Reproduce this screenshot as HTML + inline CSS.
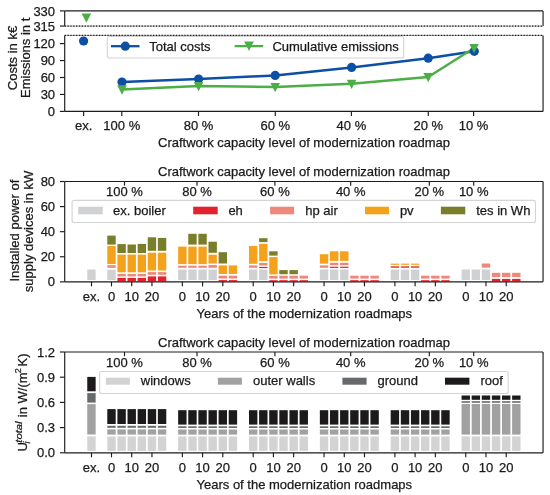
<!DOCTYPE html>
<html><head><meta charset="utf-8"><title>Modernization roadmaps</title>
<style>
html,body{margin:0;padding:0;background:#fff;}
svg{display:block;filter:blur(0.3px);}
svg text{font-family:"Liberation Sans",sans-serif;fill:#1a1a1a;stroke:#1a1a1a;stroke-width:0.25px;}
</style></head>
<body>
<svg width="550" height="495" viewBox="0 0 550 495">
<rect x="0" y="0" width="550" height="495" fill="#ffffff"/>
<line x1="64.70" y1="10.90" x2="543.05" y2="10.90" stroke="#1c1c1c" stroke-width="1.15" />
<line x1="64.70" y1="10.90" x2="64.70" y2="26.05" stroke="#1c1c1c" stroke-width="1.15" />
<line x1="543.05" y1="10.90" x2="543.05" y2="26.05" stroke="#1c1c1c" stroke-width="1.15" />
<line x1="64.70" y1="26.05" x2="543.05" y2="26.05" stroke="#9a9a9a" stroke-width="1.0" />
<line x1="64.70" y1="26.05" x2="543.05" y2="26.05" stroke="#1c1c1c" stroke-width="1.3" stroke-dasharray="1.2 1.65"/>
<line x1="64.70" y1="35.40" x2="543.05" y2="35.40" stroke="#9a9a9a" stroke-width="1.0" />
<line x1="64.70" y1="35.40" x2="543.05" y2="35.40" stroke="#1c1c1c" stroke-width="1.3" stroke-dasharray="1.2 1.65"/>
<line x1="64.70" y1="35.40" x2="64.70" y2="111.40" stroke="#1c1c1c" stroke-width="1.15" />
<line x1="543.05" y1="35.40" x2="543.05" y2="111.40" stroke="#1c1c1c" stroke-width="1.15" />
<line x1="64.70" y1="111.40" x2="543.05" y2="111.40" stroke="#1c1c1c" stroke-width="1.15" />
<line x1="59.90" y1="10.90" x2="64.70" y2="10.90" stroke="#1c1c1c" stroke-width="1.15" />
<text x="55.10" y="15.50" text-anchor="end" font-size="13" >330</text>
<line x1="59.90" y1="26.05" x2="64.70" y2="26.05" stroke="#1c1c1c" stroke-width="1.15" />
<text x="55.10" y="30.65" text-anchor="end" font-size="13" >315</text>
<line x1="59.90" y1="43.60" x2="64.70" y2="43.60" stroke="#1c1c1c" stroke-width="1.15" />
<text x="55.10" y="48.20" text-anchor="end" font-size="13" >120</text>
<line x1="59.90" y1="60.55" x2="64.70" y2="60.55" stroke="#1c1c1c" stroke-width="1.15" />
<text x="55.10" y="65.15" text-anchor="end" font-size="13" >90</text>
<line x1="59.90" y1="77.50" x2="64.70" y2="77.50" stroke="#1c1c1c" stroke-width="1.15" />
<text x="55.10" y="82.10" text-anchor="end" font-size="13" >60</text>
<line x1="59.90" y1="94.45" x2="64.70" y2="94.45" stroke="#1c1c1c" stroke-width="1.15" />
<text x="55.10" y="99.05" text-anchor="end" font-size="13" >30</text>
<line x1="59.90" y1="111.40" x2="64.70" y2="111.40" stroke="#1c1c1c" stroke-width="1.15" />
<text x="55.10" y="116.00" text-anchor="end" font-size="13" >0</text>
<line x1="83.60" y1="111.40" x2="83.60" y2="115.90" stroke="#1c1c1c" stroke-width="1.15" />
<text x="83.60" y="129.90" text-anchor="middle" font-size="13" >ex.</text>
<line x1="121.80" y1="111.40" x2="121.80" y2="115.90" stroke="#1c1c1c" stroke-width="1.15" />
<text x="121.80" y="129.90" text-anchor="middle" font-size="13" >100 %</text>
<line x1="198.50" y1="111.40" x2="198.50" y2="115.90" stroke="#1c1c1c" stroke-width="1.15" />
<text x="198.50" y="129.90" text-anchor="middle" font-size="13" >80 %</text>
<line x1="275.30" y1="111.40" x2="275.30" y2="115.90" stroke="#1c1c1c" stroke-width="1.15" />
<text x="275.30" y="129.90" text-anchor="middle" font-size="13" >60 %</text>
<line x1="351.40" y1="111.40" x2="351.40" y2="115.90" stroke="#1c1c1c" stroke-width="1.15" />
<text x="351.40" y="129.90" text-anchor="middle" font-size="13" >40 %</text>
<line x1="428.30" y1="111.40" x2="428.30" y2="115.90" stroke="#1c1c1c" stroke-width="1.15" />
<text x="428.30" y="129.90" text-anchor="middle" font-size="13" >20 %</text>
<line x1="473.60" y1="111.40" x2="473.60" y2="115.90" stroke="#1c1c1c" stroke-width="1.15" />
<text x="473.60" y="129.90" text-anchor="middle" font-size="13" >10 %</text>
<text x="304.00" y="147.30" text-anchor="middle" font-size="13" >Craftwork capacity level of modernization roadmap</text>
<text transform="translate(16.7,58) rotate(-90)" text-anchor="middle" font-size="13">Costs in k€</text>
<text transform="translate(30.4,57.8) rotate(-90)" text-anchor="middle" font-size="13">Emissions in t</text>
<polyline points="122.00,82.00 198.60,79.00 275.20,75.40 351.60,67.40 428.20,58.20 474.30,51.30" fill="none" stroke="#0d4fa5" stroke-width="2.5" stroke-linejoin="round"/>
<polyline points="122.00,89.40 198.60,86.00 275.20,87.00 351.60,83.80 428.20,77.00 474.10,48.00" fill="none" stroke="#4cae47" stroke-width="2.5" stroke-linejoin="round"/>
<circle cx="122.00" cy="82.00" r="4.6" fill="#0d4fa5"/>
<circle cx="198.60" cy="79.00" r="4.6" fill="#0d4fa5"/>
<circle cx="275.20" cy="75.40" r="4.6" fill="#0d4fa5"/>
<circle cx="351.60" cy="67.40" r="4.6" fill="#0d4fa5"/>
<circle cx="428.20" cy="58.20" r="4.6" fill="#0d4fa5"/>
<circle cx="474.30" cy="51.30" r="4.6" fill="#0d4fa5"/>
<circle cx="83.60" cy="41.00" r="4.6" fill="#0d4fa5"/>
<polygon points="117.20,85.30 126.80,85.30 122.00,94.70" fill="#4cae47"/>
<polygon points="193.80,81.90 203.40,81.90 198.60,91.30" fill="#4cae47"/>
<polygon points="270.40,82.90 280.00,82.90 275.20,92.30" fill="#4cae47"/>
<polygon points="346.80,79.70 356.40,79.70 351.60,89.10" fill="#4cae47"/>
<polygon points="423.40,72.90 433.00,72.90 428.20,82.30" fill="#4cae47"/>
<polygon points="469.30,43.90 478.90,43.90 474.10,53.30" fill="#4cae47"/>
<polygon points="81.60,13.40 91.20,13.40 86.40,22.80" fill="#4cae47"/>
<rect x="107.30" y="36.50" width="296.40" height="21.50" rx="2.0" ry="2.0" fill="#ffffff" fill-opacity="0.85" stroke="#d4d4d4" stroke-width="1.1"/>
<line x1="110.90" y1="46.20" x2="139.50" y2="46.20" stroke="#0d4fa5" stroke-width="2.3" />
<circle cx="125.30" cy="46.20" r="4.6" fill="#0d4fa5"/>
<text x="149.20" y="50.60" text-anchor="start" font-size="13" >Total costs</text>
<line x1="234.60" y1="46.10" x2="263.20" y2="46.10" stroke="#4cae47" stroke-width="2.3" />
<polygon points="244.20,41.60 253.80,41.60 249.00,51.00" fill="#4cae47"/>
<text x="272.40" y="50.60" text-anchor="start" font-size="13" >Cumulative emissions</text>
<rect x="87.25" y="269.50" width="8.40" height="10.50" fill="#d0d1d3" />
<rect x="107.30" y="235.60" width="8.40" height="9.00" fill="#7a7e2b" />
<rect x="107.30" y="246.00" width="8.40" height="18.10" fill="#f4a21c" />
<rect x="107.30" y="265.20" width="8.40" height="2.60" fill="#ed887b" />
<rect x="107.30" y="269.70" width="8.40" height="10.30" fill="#d0d1d3" />
<rect x="117.41" y="244.10" width="8.40" height="8.90" fill="#7a7e2b" />
<rect x="117.41" y="254.60" width="8.40" height="17.70" fill="#f4a21c" />
<rect x="117.41" y="274.00" width="8.40" height="2.40" fill="#ed887b" />
<rect x="117.41" y="277.90" width="8.40" height="3.50" fill="#e2222e" />
<rect x="127.52" y="244.50" width="8.40" height="8.50" fill="#7a7e2b" />
<rect x="127.52" y="254.60" width="8.40" height="17.70" fill="#f4a21c" />
<rect x="127.52" y="274.00" width="8.40" height="2.40" fill="#ed887b" />
<rect x="127.52" y="277.90" width="8.40" height="3.50" fill="#e2222e" />
<rect x="137.63" y="243.90" width="8.40" height="9.10" fill="#7a7e2b" />
<rect x="137.63" y="254.60" width="8.40" height="17.70" fill="#f4a21c" />
<rect x="137.63" y="274.00" width="8.40" height="2.40" fill="#ed887b" />
<rect x="137.63" y="277.90" width="8.40" height="3.50" fill="#e2222e" />
<rect x="147.75" y="237.30" width="8.40" height="13.50" fill="#7a7e2b" />
<rect x="147.75" y="252.70" width="8.40" height="17.80" fill="#f4a21c" />
<rect x="147.75" y="272.10" width="8.40" height="2.70" fill="#ed887b" />
<rect x="147.75" y="276.40" width="8.40" height="5.00" fill="#e2222e" />
<rect x="157.86" y="237.90" width="8.40" height="12.90" fill="#7a7e2b" />
<rect x="157.86" y="252.70" width="8.40" height="17.80" fill="#f4a21c" />
<rect x="157.86" y="272.10" width="8.40" height="2.70" fill="#ed887b" />
<rect x="157.86" y="276.40" width="8.40" height="5.00" fill="#e2222e" />
<rect x="178.15" y="246.60" width="8.40" height="17.50" fill="#f4a21c" />
<rect x="178.15" y="265.70" width="8.40" height="2.10" fill="#ed887b" />
<rect x="178.15" y="269.50" width="8.40" height="10.50" fill="#d0d1d3" />
<rect x="188.26" y="233.80" width="8.40" height="10.80" fill="#7a7e2b" />
<rect x="188.26" y="246.60" width="8.40" height="17.50" fill="#f4a21c" />
<rect x="188.26" y="265.70" width="8.40" height="2.10" fill="#ed887b" />
<rect x="188.26" y="269.50" width="8.40" height="10.50" fill="#d0d1d3" />
<rect x="198.37" y="233.80" width="8.40" height="10.80" fill="#7a7e2b" />
<rect x="198.37" y="246.60" width="8.40" height="17.50" fill="#f4a21c" />
<rect x="198.37" y="265.70" width="8.40" height="2.10" fill="#ed887b" />
<rect x="198.37" y="269.50" width="8.40" height="10.50" fill="#d0d1d3" />
<rect x="208.48" y="241.70" width="8.40" height="11.10" fill="#7a7e2b" />
<rect x="208.48" y="254.70" width="8.40" height="8.80" fill="#f4a21c" />
<rect x="208.48" y="265.10" width="8.40" height="2.70" fill="#ed887b" />
<rect x="208.48" y="269.50" width="8.40" height="10.50" fill="#d0d1d3" />
<rect x="218.60" y="252.20" width="8.40" height="11.30" fill="#7a7e2b" />
<rect x="218.60" y="265.40" width="8.40" height="8.60" fill="#f4a21c" />
<rect x="218.60" y="275.70" width="8.40" height="2.80" fill="#ed887b" />
<rect x="218.60" y="280.10" width="8.40" height="1.30" fill="#e2222e" />
<rect x="228.71" y="265.40" width="8.40" height="8.60" fill="#f4a21c" />
<rect x="228.71" y="275.70" width="8.40" height="2.80" fill="#ed887b" />
<rect x="228.71" y="280.10" width="8.40" height="1.30" fill="#e2222e" />
<rect x="249.00" y="246.00" width="8.40" height="17.80" fill="#f4a21c" />
<rect x="249.00" y="265.40" width="8.40" height="2.40" fill="#ed887b" />
<rect x="249.00" y="269.50" width="8.40" height="10.50" fill="#d0d1d3" />
<rect x="259.11" y="238.20" width="8.40" height="3.90" fill="#7a7e2b" />
<rect x="259.11" y="243.80" width="8.40" height="17.40" fill="#f4a21c" />
<rect x="259.11" y="262.90" width="8.40" height="2.60" fill="#ed887b" />
<rect x="259.11" y="266.90" width="8.40" height="1.20" fill="#e2222e" />
<rect x="259.11" y="269.50" width="8.40" height="10.50" fill="#d0d1d3" />
<rect x="269.22" y="251.30" width="8.40" height="4.30" fill="#7a7e2b" />
<rect x="269.22" y="257.10" width="8.40" height="17.30" fill="#f4a21c" />
<rect x="269.22" y="276.00" width="8.40" height="2.60" fill="#ed887b" />
<rect x="269.22" y="280.20" width="8.40" height="1.20" fill="#e2222e" />
<rect x="279.33" y="270.10" width="8.40" height="4.10" fill="#7a7e2b" />
<rect x="279.33" y="275.70" width="8.40" height="2.90" fill="#ed887b" />
<rect x="279.33" y="280.20" width="8.40" height="1.20" fill="#e2222e" />
<rect x="289.45" y="270.10" width="8.40" height="4.10" fill="#7a7e2b" />
<rect x="289.45" y="275.70" width="8.40" height="2.90" fill="#ed887b" />
<rect x="289.45" y="280.20" width="8.40" height="1.20" fill="#e2222e" />
<rect x="299.56" y="275.70" width="8.40" height="2.90" fill="#ed887b" />
<rect x="299.56" y="280.20" width="8.40" height="1.20" fill="#e2222e" />
<rect x="319.85" y="254.20" width="8.40" height="9.50" fill="#f4a21c" />
<rect x="319.85" y="265.40" width="8.40" height="2.40" fill="#ed887b" />
<rect x="319.85" y="269.50" width="8.40" height="10.50" fill="#d0d1d3" />
<rect x="329.96" y="251.30" width="8.40" height="9.60" fill="#f4a21c" />
<rect x="329.96" y="262.80" width="8.40" height="2.40" fill="#ed887b" />
<rect x="329.96" y="266.70" width="8.40" height="1.20" fill="#e2222e" />
<rect x="329.96" y="269.50" width="8.40" height="10.50" fill="#d0d1d3" />
<rect x="340.07" y="251.30" width="8.40" height="9.60" fill="#f4a21c" />
<rect x="340.07" y="262.80" width="8.40" height="2.40" fill="#ed887b" />
<rect x="340.07" y="266.70" width="8.40" height="1.20" fill="#e2222e" />
<rect x="340.07" y="269.50" width="8.40" height="10.50" fill="#d0d1d3" />
<rect x="350.18" y="275.70" width="8.40" height="2.90" fill="#ed887b" />
<rect x="350.18" y="280.20" width="8.40" height="1.20" fill="#e2222e" />
<rect x="360.30" y="275.70" width="8.40" height="2.90" fill="#ed887b" />
<rect x="360.30" y="280.20" width="8.40" height="1.20" fill="#e2222e" />
<rect x="370.41" y="275.70" width="8.40" height="2.90" fill="#ed887b" />
<rect x="370.41" y="280.20" width="8.40" height="1.20" fill="#e2222e" />
<rect x="390.70" y="263.60" width="8.40" height="1.20" fill="#f4a21c" />
<rect x="390.70" y="266.10" width="8.40" height="1.90" fill="#e8645c" />
<rect x="390.70" y="269.60" width="8.40" height="10.40" fill="#d0d1d3" />
<rect x="400.81" y="263.60" width="8.40" height="1.20" fill="#f4a21c" />
<rect x="400.81" y="266.10" width="8.40" height="1.90" fill="#e8645c" />
<rect x="400.81" y="269.60" width="8.40" height="10.40" fill="#d0d1d3" />
<rect x="410.92" y="263.60" width="8.40" height="1.20" fill="#f4a21c" />
<rect x="410.92" y="266.10" width="8.40" height="1.90" fill="#e8645c" />
<rect x="410.92" y="269.60" width="8.40" height="10.40" fill="#d0d1d3" />
<rect x="421.03" y="275.70" width="8.40" height="2.90" fill="#ed887b" />
<rect x="421.03" y="280.20" width="8.40" height="1.20" fill="#e2222e" />
<rect x="431.15" y="275.70" width="8.40" height="2.90" fill="#ed887b" />
<rect x="431.15" y="280.20" width="8.40" height="1.20" fill="#e2222e" />
<rect x="441.26" y="275.70" width="8.40" height="2.90" fill="#ed887b" />
<rect x="441.26" y="280.20" width="8.40" height="1.20" fill="#e2222e" />
<rect x="461.55" y="269.50" width="8.40" height="10.50" fill="#d0d1d3" />
<rect x="471.66" y="269.50" width="8.40" height="10.50" fill="#d0d1d3" />
<rect x="481.77" y="263.50" width="8.40" height="4.10" fill="#ed887b" />
<rect x="481.77" y="269.50" width="8.40" height="10.50" fill="#d0d1d3" />
<rect x="491.88" y="272.80" width="8.40" height="4.30" fill="#ed887b" />
<rect x="491.88" y="278.90" width="8.40" height="2.50" fill="#e2222e" />
<rect x="502.00" y="272.80" width="8.40" height="4.30" fill="#ed887b" />
<rect x="502.00" y="278.90" width="8.40" height="2.50" fill="#e2222e" />
<rect x="512.11" y="272.80" width="8.40" height="4.30" fill="#ed887b" />
<rect x="512.11" y="278.90" width="8.40" height="2.50" fill="#e2222e" />
<line x1="64.70" y1="181.50" x2="543.05" y2="181.50" stroke="#1c1c1c" stroke-width="1.15" />
<line x1="64.70" y1="281.85" x2="543.05" y2="281.85" stroke="#1c1c1c" stroke-width="1.15" />
<line x1="64.70" y1="181.50" x2="64.70" y2="281.85" stroke="#1c1c1c" stroke-width="1.15" />
<line x1="543.05" y1="181.50" x2="543.05" y2="281.85" stroke="#1c1c1c" stroke-width="1.15" />
<line x1="59.90" y1="181.50" x2="64.70" y2="181.50" stroke="#1c1c1c" stroke-width="1.15" />
<text x="55.10" y="186.10" text-anchor="end" font-size="13" >80</text>
<line x1="59.90" y1="206.59" x2="64.70" y2="206.59" stroke="#1c1c1c" stroke-width="1.15" />
<text x="55.10" y="211.19" text-anchor="end" font-size="13" >60</text>
<line x1="59.90" y1="231.68" x2="64.70" y2="231.68" stroke="#1c1c1c" stroke-width="1.15" />
<text x="55.10" y="236.28" text-anchor="end" font-size="13" >40</text>
<line x1="59.90" y1="256.76" x2="64.70" y2="256.76" stroke="#1c1c1c" stroke-width="1.15" />
<text x="55.10" y="261.36" text-anchor="end" font-size="13" >20</text>
<line x1="59.90" y1="281.85" x2="64.70" y2="281.85" stroke="#1c1c1c" stroke-width="1.15" />
<text x="55.10" y="286.45" text-anchor="end" font-size="13" >0</text>
<text x="304.00" y="176.00" text-anchor="middle" font-size="13" >Craftwork capacity level of modernization roadmap</text>
<line x1="124.50" y1="181.50" x2="124.50" y2="185.70" stroke="#1c1c1c" stroke-width="1.15" />
<text x="124.50" y="196.45" text-anchor="middle" font-size="13" >100 %</text>
<line x1="197.00" y1="181.50" x2="197.00" y2="185.70" stroke="#1c1c1c" stroke-width="1.15" />
<text x="197.00" y="196.45" text-anchor="middle" font-size="13" >80 %</text>
<line x1="274.90" y1="181.50" x2="274.90" y2="185.70" stroke="#1c1c1c" stroke-width="1.15" />
<text x="274.90" y="196.45" text-anchor="middle" font-size="13" >60 %</text>
<line x1="350.70" y1="181.50" x2="350.70" y2="185.70" stroke="#1c1c1c" stroke-width="1.15" />
<text x="350.70" y="196.45" text-anchor="middle" font-size="13" >40 %</text>
<line x1="429.30" y1="181.50" x2="429.30" y2="185.70" stroke="#1c1c1c" stroke-width="1.15" />
<text x="429.30" y="196.45" text-anchor="middle" font-size="13" >20 %</text>
<line x1="473.70" y1="181.50" x2="473.70" y2="185.70" stroke="#1c1c1c" stroke-width="1.15" />
<text x="473.70" y="196.45" text-anchor="middle" font-size="13" >10 %</text>
<line x1="91.50" y1="281.85" x2="91.50" y2="286.35" stroke="#1c1c1c" stroke-width="1.15" />
<text x="91.50" y="300.65" text-anchor="middle" font-size="13" >ex.</text>
<line x1="111.50" y1="281.85" x2="111.50" y2="286.35" stroke="#1c1c1c" stroke-width="1.15" />
<text x="111.50" y="300.65" text-anchor="middle" font-size="13" >0</text>
<line x1="131.72" y1="281.85" x2="131.72" y2="286.35" stroke="#1c1c1c" stroke-width="1.15" />
<text x="131.72" y="300.65" text-anchor="middle" font-size="13" >10</text>
<line x1="151.95" y1="281.85" x2="151.95" y2="286.35" stroke="#1c1c1c" stroke-width="1.15" />
<text x="151.95" y="300.65" text-anchor="middle" font-size="13" >20</text>
<line x1="182.35" y1="281.85" x2="182.35" y2="286.35" stroke="#1c1c1c" stroke-width="1.15" />
<text x="182.35" y="300.65" text-anchor="middle" font-size="13" >0</text>
<line x1="202.57" y1="281.85" x2="202.57" y2="286.35" stroke="#1c1c1c" stroke-width="1.15" />
<text x="202.57" y="300.65" text-anchor="middle" font-size="13" >10</text>
<line x1="222.80" y1="281.85" x2="222.80" y2="286.35" stroke="#1c1c1c" stroke-width="1.15" />
<text x="222.80" y="300.65" text-anchor="middle" font-size="13" >20</text>
<line x1="253.20" y1="281.85" x2="253.20" y2="286.35" stroke="#1c1c1c" stroke-width="1.15" />
<text x="253.20" y="300.65" text-anchor="middle" font-size="13" >0</text>
<line x1="273.42" y1="281.85" x2="273.42" y2="286.35" stroke="#1c1c1c" stroke-width="1.15" />
<text x="273.42" y="300.65" text-anchor="middle" font-size="13" >10</text>
<line x1="293.65" y1="281.85" x2="293.65" y2="286.35" stroke="#1c1c1c" stroke-width="1.15" />
<text x="293.65" y="300.65" text-anchor="middle" font-size="13" >20</text>
<line x1="324.05" y1="281.85" x2="324.05" y2="286.35" stroke="#1c1c1c" stroke-width="1.15" />
<text x="324.05" y="300.65" text-anchor="middle" font-size="13" >0</text>
<line x1="344.27" y1="281.85" x2="344.27" y2="286.35" stroke="#1c1c1c" stroke-width="1.15" />
<text x="344.27" y="300.65" text-anchor="middle" font-size="13" >10</text>
<line x1="364.50" y1="281.85" x2="364.50" y2="286.35" stroke="#1c1c1c" stroke-width="1.15" />
<text x="364.50" y="300.65" text-anchor="middle" font-size="13" >20</text>
<line x1="394.90" y1="281.85" x2="394.90" y2="286.35" stroke="#1c1c1c" stroke-width="1.15" />
<text x="394.90" y="300.65" text-anchor="middle" font-size="13" >0</text>
<line x1="415.12" y1="281.85" x2="415.12" y2="286.35" stroke="#1c1c1c" stroke-width="1.15" />
<text x="415.12" y="300.65" text-anchor="middle" font-size="13" >10</text>
<line x1="435.35" y1="281.85" x2="435.35" y2="286.35" stroke="#1c1c1c" stroke-width="1.15" />
<text x="435.35" y="300.65" text-anchor="middle" font-size="13" >20</text>
<line x1="465.75" y1="281.85" x2="465.75" y2="286.35" stroke="#1c1c1c" stroke-width="1.15" />
<text x="465.75" y="300.65" text-anchor="middle" font-size="13" >0</text>
<line x1="485.97" y1="281.85" x2="485.97" y2="286.35" stroke="#1c1c1c" stroke-width="1.15" />
<text x="485.97" y="300.65" text-anchor="middle" font-size="13" >10</text>
<line x1="506.20" y1="281.85" x2="506.20" y2="286.35" stroke="#1c1c1c" stroke-width="1.15" />
<text x="506.20" y="300.65" text-anchor="middle" font-size="13" >20</text>
<text x="304.30" y="317.55" text-anchor="middle" font-size="13" >Years of the modernization roadmaps</text>
<text transform="translate(19.4,230.65) rotate(-90)" text-anchor="middle" font-size="13">Installed power of</text>
<text transform="translate(33.4,231.45) rotate(-90)" text-anchor="middle" font-size="13">supply devices in kW</text>
<rect x="72.10" y="200.40" width="463.40" height="22.10" rx="2.0" ry="2.0" fill="#ffffff" fill-opacity="0.85" stroke="#d4d4d4" stroke-width="1.1"/>
<rect x="78.20" y="206.70" width="24.50" height="7.60" fill="#d0d1d3" />
<text x="113.00" y="214.70" text-anchor="start" font-size="13" >ex. boiler</text>
<rect x="193.20" y="206.70" width="24.50" height="7.60" fill="#e2222e" />
<text x="228.40" y="214.70" text-anchor="start" font-size="13" >eh</text>
<rect x="270.10" y="206.70" width="24.00" height="7.60" fill="#ed887b" />
<text x="305.30" y="214.70" text-anchor="start" font-size="13" >hp air</text>
<rect x="365.00" y="206.70" width="24.00" height="7.60" fill="#f4a21c" />
<text x="399.90" y="214.70" text-anchor="start" font-size="13" >pv</text>
<rect x="440.90" y="206.70" width="24.40" height="7.60" fill="#7a7e2b" />
<text x="476.20" y="214.70" text-anchor="start" font-size="13" >tes in Wh</text>
<rect x="87.25" y="376.90" width="8.40" height="14.40" fill="#1c1a1b" />
<rect x="87.25" y="393.10" width="8.40" height="9.50" fill="#676a6d" />
<rect x="87.25" y="404.10" width="8.40" height="30.40" fill="#a1a1a1" />
<rect x="87.25" y="436.40" width="8.40" height="14.50" fill="#d3d3d3" />
<rect x="107.30" y="409.10" width="8.40" height="14.90" fill="#1c1a1b" />
<rect x="107.30" y="425.80" width="8.40" height="2.00" fill="#676a6d" />
<rect x="107.30" y="429.40" width="8.40" height="5.20" fill="#a1a1a1" />
<rect x="107.30" y="436.50" width="8.40" height="14.40" fill="#d3d3d3" />
<rect x="117.41" y="409.10" width="8.40" height="14.90" fill="#1c1a1b" />
<rect x="117.41" y="425.80" width="8.40" height="2.00" fill="#676a6d" />
<rect x="117.41" y="429.40" width="8.40" height="5.20" fill="#a1a1a1" />
<rect x="117.41" y="436.50" width="8.40" height="14.40" fill="#d3d3d3" />
<rect x="127.52" y="409.10" width="8.40" height="14.90" fill="#1c1a1b" />
<rect x="127.52" y="425.80" width="8.40" height="2.00" fill="#676a6d" />
<rect x="127.52" y="429.40" width="8.40" height="5.20" fill="#a1a1a1" />
<rect x="127.52" y="436.50" width="8.40" height="14.40" fill="#d3d3d3" />
<rect x="137.63" y="409.10" width="8.40" height="14.90" fill="#1c1a1b" />
<rect x="137.63" y="425.80" width="8.40" height="2.00" fill="#676a6d" />
<rect x="137.63" y="429.40" width="8.40" height="5.20" fill="#a1a1a1" />
<rect x="137.63" y="436.50" width="8.40" height="14.40" fill="#d3d3d3" />
<rect x="147.75" y="409.10" width="8.40" height="14.90" fill="#1c1a1b" />
<rect x="147.75" y="425.80" width="8.40" height="2.00" fill="#676a6d" />
<rect x="147.75" y="429.40" width="8.40" height="5.20" fill="#a1a1a1" />
<rect x="147.75" y="436.50" width="8.40" height="14.40" fill="#d3d3d3" />
<rect x="157.86" y="409.10" width="8.40" height="14.90" fill="#1c1a1b" />
<rect x="157.86" y="425.80" width="8.40" height="2.00" fill="#676a6d" />
<rect x="157.86" y="429.40" width="8.40" height="5.20" fill="#a1a1a1" />
<rect x="157.86" y="436.50" width="8.40" height="14.40" fill="#d3d3d3" />
<rect x="178.15" y="410.20" width="8.40" height="14.40" fill="#1c1a1b" />
<rect x="178.15" y="426.30" width="8.40" height="1.70" fill="#676a6d" />
<rect x="178.15" y="429.50" width="8.40" height="5.10" fill="#a1a1a1" />
<rect x="178.15" y="436.50" width="8.40" height="14.40" fill="#d3d3d3" />
<rect x="188.26" y="410.20" width="8.40" height="14.40" fill="#1c1a1b" />
<rect x="188.26" y="426.30" width="8.40" height="1.70" fill="#676a6d" />
<rect x="188.26" y="429.50" width="8.40" height="5.10" fill="#a1a1a1" />
<rect x="188.26" y="436.50" width="8.40" height="14.40" fill="#d3d3d3" />
<rect x="198.37" y="410.20" width="8.40" height="14.40" fill="#1c1a1b" />
<rect x="198.37" y="426.30" width="8.40" height="1.70" fill="#676a6d" />
<rect x="198.37" y="429.50" width="8.40" height="5.10" fill="#a1a1a1" />
<rect x="198.37" y="436.50" width="8.40" height="14.40" fill="#d3d3d3" />
<rect x="208.48" y="410.20" width="8.40" height="14.40" fill="#1c1a1b" />
<rect x="208.48" y="426.30" width="8.40" height="1.70" fill="#676a6d" />
<rect x="208.48" y="429.50" width="8.40" height="5.10" fill="#a1a1a1" />
<rect x="208.48" y="436.50" width="8.40" height="14.40" fill="#d3d3d3" />
<rect x="218.60" y="410.20" width="8.40" height="14.40" fill="#1c1a1b" />
<rect x="218.60" y="426.30" width="8.40" height="1.70" fill="#676a6d" />
<rect x="218.60" y="429.50" width="8.40" height="5.10" fill="#a1a1a1" />
<rect x="218.60" y="436.50" width="8.40" height="14.40" fill="#d3d3d3" />
<rect x="228.71" y="410.20" width="8.40" height="14.40" fill="#1c1a1b" />
<rect x="228.71" y="426.30" width="8.40" height="1.70" fill="#676a6d" />
<rect x="228.71" y="429.50" width="8.40" height="5.10" fill="#a1a1a1" />
<rect x="228.71" y="436.50" width="8.40" height="14.40" fill="#d3d3d3" />
<rect x="249.00" y="410.20" width="8.40" height="14.40" fill="#1c1a1b" />
<rect x="249.00" y="426.30" width="8.40" height="1.70" fill="#676a6d" />
<rect x="249.00" y="429.50" width="8.40" height="5.10" fill="#a1a1a1" />
<rect x="249.00" y="436.50" width="8.40" height="14.40" fill="#d3d3d3" />
<rect x="259.11" y="410.20" width="8.40" height="14.40" fill="#1c1a1b" />
<rect x="259.11" y="426.30" width="8.40" height="1.70" fill="#676a6d" />
<rect x="259.11" y="429.50" width="8.40" height="5.10" fill="#a1a1a1" />
<rect x="259.11" y="436.50" width="8.40" height="14.40" fill="#d3d3d3" />
<rect x="269.22" y="410.20" width="8.40" height="14.40" fill="#1c1a1b" />
<rect x="269.22" y="426.30" width="8.40" height="1.70" fill="#676a6d" />
<rect x="269.22" y="429.50" width="8.40" height="5.10" fill="#a1a1a1" />
<rect x="269.22" y="436.50" width="8.40" height="14.40" fill="#d3d3d3" />
<rect x="279.33" y="410.20" width="8.40" height="14.40" fill="#1c1a1b" />
<rect x="279.33" y="426.30" width="8.40" height="1.70" fill="#676a6d" />
<rect x="279.33" y="429.50" width="8.40" height="5.10" fill="#a1a1a1" />
<rect x="279.33" y="436.50" width="8.40" height="14.40" fill="#d3d3d3" />
<rect x="289.45" y="410.20" width="8.40" height="14.40" fill="#1c1a1b" />
<rect x="289.45" y="426.30" width="8.40" height="1.70" fill="#676a6d" />
<rect x="289.45" y="429.50" width="8.40" height="5.10" fill="#a1a1a1" />
<rect x="289.45" y="436.50" width="8.40" height="14.40" fill="#d3d3d3" />
<rect x="299.56" y="410.20" width="8.40" height="14.40" fill="#1c1a1b" />
<rect x="299.56" y="426.30" width="8.40" height="1.70" fill="#676a6d" />
<rect x="299.56" y="429.50" width="8.40" height="5.10" fill="#a1a1a1" />
<rect x="299.56" y="436.50" width="8.40" height="14.40" fill="#d3d3d3" />
<rect x="319.85" y="410.20" width="8.40" height="14.40" fill="#1c1a1b" />
<rect x="319.85" y="426.30" width="8.40" height="1.70" fill="#676a6d" />
<rect x="319.85" y="429.50" width="8.40" height="5.10" fill="#a1a1a1" />
<rect x="319.85" y="436.50" width="8.40" height="14.40" fill="#d3d3d3" />
<rect x="329.96" y="410.20" width="8.40" height="14.40" fill="#1c1a1b" />
<rect x="329.96" y="426.30" width="8.40" height="1.70" fill="#676a6d" />
<rect x="329.96" y="429.50" width="8.40" height="5.10" fill="#a1a1a1" />
<rect x="329.96" y="436.50" width="8.40" height="14.40" fill="#d3d3d3" />
<rect x="340.07" y="410.20" width="8.40" height="14.40" fill="#1c1a1b" />
<rect x="340.07" y="426.30" width="8.40" height="1.70" fill="#676a6d" />
<rect x="340.07" y="429.50" width="8.40" height="5.10" fill="#a1a1a1" />
<rect x="340.07" y="436.50" width="8.40" height="14.40" fill="#d3d3d3" />
<rect x="350.18" y="410.20" width="8.40" height="14.40" fill="#1c1a1b" />
<rect x="350.18" y="426.30" width="8.40" height="1.70" fill="#676a6d" />
<rect x="350.18" y="429.50" width="8.40" height="5.10" fill="#a1a1a1" />
<rect x="350.18" y="436.50" width="8.40" height="14.40" fill="#d3d3d3" />
<rect x="360.30" y="410.20" width="8.40" height="14.40" fill="#1c1a1b" />
<rect x="360.30" y="426.30" width="8.40" height="1.70" fill="#676a6d" />
<rect x="360.30" y="429.50" width="8.40" height="5.10" fill="#a1a1a1" />
<rect x="360.30" y="436.50" width="8.40" height="14.40" fill="#d3d3d3" />
<rect x="370.41" y="410.20" width="8.40" height="14.40" fill="#1c1a1b" />
<rect x="370.41" y="426.30" width="8.40" height="1.70" fill="#676a6d" />
<rect x="370.41" y="429.50" width="8.40" height="5.10" fill="#a1a1a1" />
<rect x="370.41" y="436.50" width="8.40" height="14.40" fill="#d3d3d3" />
<rect x="390.70" y="410.20" width="8.40" height="14.40" fill="#1c1a1b" />
<rect x="390.70" y="426.30" width="8.40" height="1.70" fill="#676a6d" />
<rect x="390.70" y="429.50" width="8.40" height="5.10" fill="#a1a1a1" />
<rect x="390.70" y="436.50" width="8.40" height="14.40" fill="#d3d3d3" />
<rect x="400.81" y="410.20" width="8.40" height="14.40" fill="#1c1a1b" />
<rect x="400.81" y="426.30" width="8.40" height="1.70" fill="#676a6d" />
<rect x="400.81" y="429.50" width="8.40" height="5.10" fill="#a1a1a1" />
<rect x="400.81" y="436.50" width="8.40" height="14.40" fill="#d3d3d3" />
<rect x="410.92" y="410.20" width="8.40" height="14.40" fill="#1c1a1b" />
<rect x="410.92" y="426.30" width="8.40" height="1.70" fill="#676a6d" />
<rect x="410.92" y="429.50" width="8.40" height="5.10" fill="#a1a1a1" />
<rect x="410.92" y="436.50" width="8.40" height="14.40" fill="#d3d3d3" />
<rect x="421.03" y="410.20" width="8.40" height="14.40" fill="#1c1a1b" />
<rect x="421.03" y="426.30" width="8.40" height="1.70" fill="#676a6d" />
<rect x="421.03" y="429.50" width="8.40" height="5.10" fill="#a1a1a1" />
<rect x="421.03" y="436.50" width="8.40" height="14.40" fill="#d3d3d3" />
<rect x="431.15" y="410.20" width="8.40" height="14.40" fill="#1c1a1b" />
<rect x="431.15" y="426.30" width="8.40" height="1.70" fill="#676a6d" />
<rect x="431.15" y="429.50" width="8.40" height="5.10" fill="#a1a1a1" />
<rect x="431.15" y="436.50" width="8.40" height="14.40" fill="#d3d3d3" />
<rect x="441.26" y="410.20" width="8.40" height="14.40" fill="#1c1a1b" />
<rect x="441.26" y="426.30" width="8.40" height="1.70" fill="#676a6d" />
<rect x="441.26" y="429.50" width="8.40" height="5.10" fill="#a1a1a1" />
<rect x="441.26" y="436.50" width="8.40" height="14.40" fill="#d3d3d3" />
<rect x="461.55" y="395.50" width="8.40" height="4.30" fill="#1c1a1b" />
<rect x="461.55" y="401.20" width="8.40" height="1.60" fill="#676a6d" />
<rect x="461.55" y="404.00" width="8.40" height="30.60" fill="#a1a1a1" />
<rect x="461.55" y="436.40" width="8.40" height="14.50" fill="#d3d3d3" />
<rect x="471.66" y="395.50" width="8.40" height="4.30" fill="#1c1a1b" />
<rect x="471.66" y="401.20" width="8.40" height="1.60" fill="#676a6d" />
<rect x="471.66" y="404.00" width="8.40" height="30.60" fill="#a1a1a1" />
<rect x="471.66" y="436.40" width="8.40" height="14.50" fill="#d3d3d3" />
<rect x="481.77" y="395.50" width="8.40" height="4.30" fill="#1c1a1b" />
<rect x="481.77" y="401.20" width="8.40" height="1.60" fill="#676a6d" />
<rect x="481.77" y="404.00" width="8.40" height="30.60" fill="#a1a1a1" />
<rect x="481.77" y="436.40" width="8.40" height="14.50" fill="#d3d3d3" />
<rect x="491.88" y="395.50" width="8.40" height="4.30" fill="#1c1a1b" />
<rect x="491.88" y="401.20" width="8.40" height="1.60" fill="#676a6d" />
<rect x="491.88" y="404.00" width="8.40" height="30.60" fill="#a1a1a1" />
<rect x="491.88" y="436.40" width="8.40" height="14.50" fill="#d3d3d3" />
<rect x="502.00" y="395.50" width="8.40" height="4.30" fill="#1c1a1b" />
<rect x="502.00" y="401.20" width="8.40" height="1.60" fill="#676a6d" />
<rect x="502.00" y="404.00" width="8.40" height="30.60" fill="#a1a1a1" />
<rect x="502.00" y="436.40" width="8.40" height="14.50" fill="#d3d3d3" />
<rect x="512.11" y="395.50" width="8.40" height="4.30" fill="#1c1a1b" />
<rect x="512.11" y="401.20" width="8.40" height="1.60" fill="#676a6d" />
<rect x="512.11" y="404.00" width="8.40" height="30.60" fill="#a1a1a1" />
<rect x="512.11" y="436.40" width="8.40" height="14.50" fill="#d3d3d3" />
<line x1="64.70" y1="352.00" x2="543.05" y2="352.00" stroke="#1c1c1c" stroke-width="1.15" />
<line x1="64.70" y1="452.80" x2="543.05" y2="452.80" stroke="#1c1c1c" stroke-width="1.15" />
<line x1="64.70" y1="352.00" x2="64.70" y2="452.80" stroke="#1c1c1c" stroke-width="1.15" />
<line x1="543.05" y1="352.00" x2="543.05" y2="452.80" stroke="#1c1c1c" stroke-width="1.15" />
<line x1="59.90" y1="352.00" x2="64.70" y2="352.00" stroke="#1c1c1c" stroke-width="1.15" />
<text x="55.10" y="356.60" text-anchor="end" font-size="13" >1.2</text>
<line x1="59.90" y1="377.20" x2="64.70" y2="377.20" stroke="#1c1c1c" stroke-width="1.15" />
<text x="55.10" y="381.80" text-anchor="end" font-size="13" >0.9</text>
<line x1="59.90" y1="402.40" x2="64.70" y2="402.40" stroke="#1c1c1c" stroke-width="1.15" />
<text x="55.10" y="407.00" text-anchor="end" font-size="13" >0.6</text>
<line x1="59.90" y1="427.60" x2="64.70" y2="427.60" stroke="#1c1c1c" stroke-width="1.15" />
<text x="55.10" y="432.20" text-anchor="end" font-size="13" >0.3</text>
<line x1="59.90" y1="452.80" x2="64.70" y2="452.80" stroke="#1c1c1c" stroke-width="1.15" />
<text x="55.10" y="457.40" text-anchor="end" font-size="13" >0.0</text>
<text x="304.00" y="347.30" text-anchor="middle" font-size="13" >Craftwork capacity level of modernization roadmap</text>
<line x1="124.50" y1="352.00" x2="124.50" y2="356.20" stroke="#1c1c1c" stroke-width="1.15" />
<text x="124.50" y="366.95" text-anchor="middle" font-size="13" >100 %</text>
<line x1="197.00" y1="352.00" x2="197.00" y2="356.20" stroke="#1c1c1c" stroke-width="1.15" />
<text x="197.00" y="366.95" text-anchor="middle" font-size="13" >80 %</text>
<line x1="274.90" y1="352.00" x2="274.90" y2="356.20" stroke="#1c1c1c" stroke-width="1.15" />
<text x="274.90" y="366.95" text-anchor="middle" font-size="13" >60 %</text>
<line x1="350.70" y1="352.00" x2="350.70" y2="356.20" stroke="#1c1c1c" stroke-width="1.15" />
<text x="350.70" y="366.95" text-anchor="middle" font-size="13" >40 %</text>
<line x1="429.30" y1="352.00" x2="429.30" y2="356.20" stroke="#1c1c1c" stroke-width="1.15" />
<text x="429.30" y="366.95" text-anchor="middle" font-size="13" >20 %</text>
<line x1="473.70" y1="352.00" x2="473.70" y2="356.20" stroke="#1c1c1c" stroke-width="1.15" />
<text x="473.70" y="366.95" text-anchor="middle" font-size="13" >10 %</text>
<line x1="91.50" y1="452.80" x2="91.50" y2="457.30" stroke="#1c1c1c" stroke-width="1.15" />
<text x="91.50" y="471.60" text-anchor="middle" font-size="13" >ex.</text>
<line x1="111.50" y1="452.80" x2="111.50" y2="457.30" stroke="#1c1c1c" stroke-width="1.15" />
<text x="111.50" y="471.60" text-anchor="middle" font-size="13" >0</text>
<line x1="131.72" y1="452.80" x2="131.72" y2="457.30" stroke="#1c1c1c" stroke-width="1.15" />
<text x="131.72" y="471.60" text-anchor="middle" font-size="13" >10</text>
<line x1="151.95" y1="452.80" x2="151.95" y2="457.30" stroke="#1c1c1c" stroke-width="1.15" />
<text x="151.95" y="471.60" text-anchor="middle" font-size="13" >20</text>
<line x1="182.35" y1="452.80" x2="182.35" y2="457.30" stroke="#1c1c1c" stroke-width="1.15" />
<text x="182.35" y="471.60" text-anchor="middle" font-size="13" >0</text>
<line x1="202.57" y1="452.80" x2="202.57" y2="457.30" stroke="#1c1c1c" stroke-width="1.15" />
<text x="202.57" y="471.60" text-anchor="middle" font-size="13" >10</text>
<line x1="222.80" y1="452.80" x2="222.80" y2="457.30" stroke="#1c1c1c" stroke-width="1.15" />
<text x="222.80" y="471.60" text-anchor="middle" font-size="13" >20</text>
<line x1="253.20" y1="452.80" x2="253.20" y2="457.30" stroke="#1c1c1c" stroke-width="1.15" />
<text x="253.20" y="471.60" text-anchor="middle" font-size="13" >0</text>
<line x1="273.42" y1="452.80" x2="273.42" y2="457.30" stroke="#1c1c1c" stroke-width="1.15" />
<text x="273.42" y="471.60" text-anchor="middle" font-size="13" >10</text>
<line x1="293.65" y1="452.80" x2="293.65" y2="457.30" stroke="#1c1c1c" stroke-width="1.15" />
<text x="293.65" y="471.60" text-anchor="middle" font-size="13" >20</text>
<line x1="324.05" y1="452.80" x2="324.05" y2="457.30" stroke="#1c1c1c" stroke-width="1.15" />
<text x="324.05" y="471.60" text-anchor="middle" font-size="13" >0</text>
<line x1="344.27" y1="452.80" x2="344.27" y2="457.30" stroke="#1c1c1c" stroke-width="1.15" />
<text x="344.27" y="471.60" text-anchor="middle" font-size="13" >10</text>
<line x1="364.50" y1="452.80" x2="364.50" y2="457.30" stroke="#1c1c1c" stroke-width="1.15" />
<text x="364.50" y="471.60" text-anchor="middle" font-size="13" >20</text>
<line x1="394.90" y1="452.80" x2="394.90" y2="457.30" stroke="#1c1c1c" stroke-width="1.15" />
<text x="394.90" y="471.60" text-anchor="middle" font-size="13" >0</text>
<line x1="415.12" y1="452.80" x2="415.12" y2="457.30" stroke="#1c1c1c" stroke-width="1.15" />
<text x="415.12" y="471.60" text-anchor="middle" font-size="13" >10</text>
<line x1="435.35" y1="452.80" x2="435.35" y2="457.30" stroke="#1c1c1c" stroke-width="1.15" />
<text x="435.35" y="471.60" text-anchor="middle" font-size="13" >20</text>
<line x1="465.75" y1="452.80" x2="465.75" y2="457.30" stroke="#1c1c1c" stroke-width="1.15" />
<text x="465.75" y="471.60" text-anchor="middle" font-size="13" >0</text>
<line x1="485.97" y1="452.80" x2="485.97" y2="457.30" stroke="#1c1c1c" stroke-width="1.15" />
<text x="485.97" y="471.60" text-anchor="middle" font-size="13" >10</text>
<line x1="506.20" y1="452.80" x2="506.20" y2="457.30" stroke="#1c1c1c" stroke-width="1.15" />
<text x="506.20" y="471.60" text-anchor="middle" font-size="13" >20</text>
<text x="304.30" y="488.50" text-anchor="middle" font-size="13" >Years of the modernization roadmaps</text>
<g transform="translate(26.9,451.6) rotate(-90)">
<text x="0" y="0" font-size="13">U</text>
<text x="8.9" y="-5.2" font-size="9.1" font-style="italic" textLength="21.3" lengthAdjust="spacingAndGlyphs">total</text>
<text x="8.0" y="3.4" font-size="9.1" font-style="italic">i</text>
<text x="34.45" y="0" font-size="13">in W/(m</text>
<text x="78.3" y="-5.8" font-size="9.1">2</text>
<text x="85.2" y="0" font-size="13">K)</text>
</g>
<rect x="99.60" y="371.50" width="408.60" height="22.00" rx="2.0" ry="2.0" fill="#ffffff" fill-opacity="0.85" stroke="#d4d4d4" stroke-width="1.1"/>
<rect x="105.90" y="377.70" width="24.00" height="7.00" fill="#d3d3d3" />
<text x="140.80" y="385.30" text-anchor="start" font-size="13" >windows</text>
<rect x="217.90" y="377.70" width="24.00" height="7.00" fill="#a1a1a1" />
<text x="253.00" y="385.30" text-anchor="start" font-size="13" >outer walls</text>
<rect x="342.40" y="377.70" width="24.20" height="7.00" fill="#676a6d" />
<text x="377.50" y="385.30" text-anchor="start" font-size="13" >ground</text>
<rect x="445.00" y="377.70" width="24.40" height="7.00" fill="#1c1a1b" />
<text x="480.50" y="385.30" text-anchor="start" font-size="13" >roof</text>
</svg>
</body></html>
